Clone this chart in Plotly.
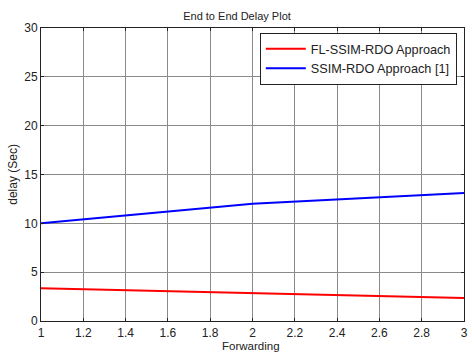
import plotly.graph_objects as go

forwarding = [1, 2, 3]
fl_ssim_rdo = [3.35, 2.88, 2.35]
ssim_rdo = [10.0, 12.0, 13.1]
x_ticks = [1, 1.2, 1.4, 1.6, 1.8, 2, 2.2, 2.4, 2.6, 2.8, 3]
y_ticks = [0, 5, 10, 15, 20, 25, 30]

FONT = "Liberation Sans, Arial"

fig = go.Figure()
fig.add_trace(go.Scatter(x=forwarding, y=fl_ssim_rdo, mode="lines",
                         name="FL-SSIM-RDO Approach",
                         line=dict(color="#ff0000", width=2)))
fig.add_trace(go.Scatter(x=forwarding, y=ssim_rdo, mode="lines",
                         name="SSIM-RDO Approach [1]",
                         line=dict(color="#0000ff", width=2)))

axis_common = dict(showline=True, linecolor="#222222", linewidth=1, mirror="ticks",
                   ticks="inside", ticklen=3, tickcolor="#222222",
                   showgrid=True, gridcolor="#8a8a8a", gridwidth=1,
                   zeroline=False, automargin=False,
                   tickfont=dict(family=FONT, size=12, color="#222"))

fig.update_layout(
    width=474, height=353,
    margin=dict(l=41, r=10, t=28, b=32),
    paper_bgcolor="white", plot_bgcolor="white",
    title=dict(text="End to End Delay Plot", x=0.5, xanchor="center", y=0.965, yanchor="top",
               font=dict(family=FONT, size=11, color="#222")),
    xaxis=dict(range=[1, 3], tickvals=x_ticks, ticktext=[f"{v:g}" for v in x_ticks],
               ticklabelstandoff=1, **axis_common),
    yaxis=dict(range=[0, 30], tickvals=y_ticks, **axis_common),
    legend=dict(x=0.983, y=0.983, xanchor="right", yanchor="top",
                bgcolor="white", bordercolor="#222", borderwidth=1,
                font=dict(family=FONT, size=12.7, color="#222"),
                tracegroupgap=0, itemwidth=40),
    showlegend=True,
    annotations=[
        dict(text="Forwarding", xref="paper", yref="paper", x=0.497, y=-0.087,
             xanchor="center", yanchor="middle", showarrow=False,
             font=dict(family=FONT, size=11.5, color="#222")),
        dict(text="delay (Sec)", xref="paper", yref="paper", x=-0.068, y=0.5,
             xanchor="center", yanchor="middle", textangle=-90, showarrow=False,
             font=dict(family=FONT, size=12, color="#222")),
    ],
)

fig.write_html("out.html")
